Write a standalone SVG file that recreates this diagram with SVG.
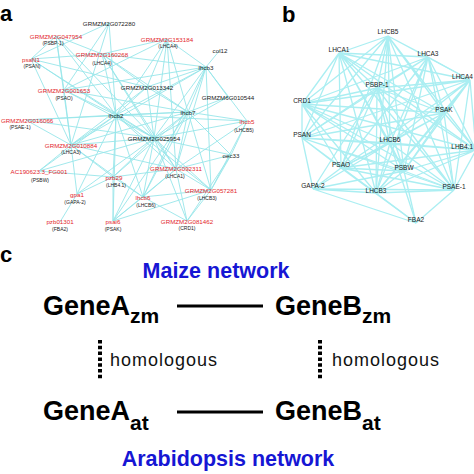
<svg xmlns="http://www.w3.org/2000/svg" width="474" height="474" viewBox="0 0 474 474">
<style>
text{font-family:"Liberation Sans",Arial,sans-serif}
.pl{font-weight:bold;font-size:22px;fill:#000}
.g{font-size:6.2px;text-anchor:middle;fill:#1a1a1a}
.r{fill:#e3262c}
.h{font-size:5px;text-anchor:middle;fill:#1a1a1a}
.b{font-size:6.5px;text-anchor:middle;fill:#1a1a1a}
.ea{stroke:#86e2e6;stroke-width:0.9;fill:none;opacity:0.85}
.eb{stroke:#9cecf0;stroke-width:1.3;fill:none;opacity:0.85}
.big{font-weight:bold;font-size:27px;fill:#000}
.sub{font-size:21px}
.net{font-weight:bold;font-size:21.5px;fill:#1616d4;text-anchor:middle}
.hom{font-size:18px;letter-spacing:1px;fill:#111}
.solid{stroke:#000;stroke-width:3}
.dot{stroke:#000;stroke-width:4;stroke-dasharray:3.5 2.3}
</style>
<rect width="474" height="474" fill="#fff"/>
<text class="pl" x="0" y="21">a</text>
<text class="pl" x="282" y="22">b</text>
<text class="pl" x="0" y="262">c</text>

<g id="connectors">
<g id="edges-a" class="ea">
<path d="M109 23L31 59M109 23L64 90M109 23L116 115M109 23L71 145"/>
<path d="M56 36L31 59M56 36L102 54M56 36L64 90M56 36L116 115M56 36L154 138M56 36L71 145"/>
<path d="M31 59L102 54M31 59L147 87M31 59L116 115M31 59L154 138M31 59L71 145"/>
<path d="M102 54L167 39M102 54L206 67M102 54L147 87M102 54L116 115M102 54L188 112M102 54L154 138M102 54L176 169"/>
<path d="M167 39L206 67M167 39L147 87M167 39L116 115M167 39L188 112M167 39L154 138M167 39L176 169M167 39L64 90"/>
<path d="M220 50L206 67"/>
<path d="M206 67L147 87M206 67L64 90M206 67L228 97M206 67L116 115M206 67L188 112M206 67L247 121M206 67L154 138M206 67L71 145M206 67L176 169M206 67L211 190M206 67L143 197"/>
<path d="M147 87L116 115M147 87L188 112M147 87L154 138M147 87L71 145"/>
<path d="M64 90L116 115M64 90L154 138M64 90L71 145M64 90L188 112"/>
<path d="M228 97L188 112M228 97L154 138"/>
<path d="M26 120L116 115M26 120L188 112M26 120L154 138M26 120L71 145"/>
<path d="M116 115L188 112M116 115L247 121M116 115L154 138M116 115L71 145M116 115L39 171M116 115L176 169M116 115L113 177M116 115L77 194M116 115L143 197M116 115L113 221M116 115L211 190"/>
<path d="M188 112L247 121M188 112L154 138M188 112L71 145M188 112L231 155M188 112L176 169M188 112L113 177M188 112L211 190M188 112L143 197M188 112L113 221"/>
<path d="M247 121L154 138M247 121L231 155M247 121L176 169M247 121L211 190"/>
<path d="M154 138L71 145M154 138L231 155M154 138L39 171M154 138L176 169M154 138L113 177M154 138L211 190M154 138L143 197M154 138L113 221M154 138L187 221"/>
<path d="M71 145L39 171M71 145L176 169M71 145L113 177M71 145L77 194M71 145L143 197"/>
<path d="M231 155L176 169M231 155L211 190M231 155L187 221"/>
<path d="M39 171L113 177"/>
<path d="M176 169L113 177M176 169L211 190M176 169L143 197M176 169L113 221M176 169L187 221"/>
<path d="M113 177L77 194M113 177L143 197M113 177L113 221"/>
<path d="M211 190L143 197M211 190L187 221M211 190L113 221"/>
<path d="M77 194L60 222M77 194L154 138"/>
<path d="M143 197L113 221M143 197L187 221"/>
</g>
<g id="edges-b" class="eb">
<path d="M388 36L339 53M388 36L428 57M388 36L470 80M388 36L377 88M388 36L302 104M388 36L444 113M388 36L302 138M388 36L390 143M388 36L476 150M388 36L341 168M388 36L404 171M388 36L376 193M388 36L454 190"/>
<path d="M339 53L428 57M339 53L470 80M339 53L377 88M339 53L302 104M339 53L444 113M339 53L302 138M339 53L390 143M339 53L476 150M339 53L341 168M339 53L404 171M339 53L376 193M339 53L454 190"/>
<path d="M428 57L470 80M428 57L377 88M428 57L302 104M428 57L444 113M428 57L302 138M428 57L390 143M428 57L476 150M428 57L341 168M428 57L404 171M428 57L376 193M428 57L454 190"/>
<path d="M470 80L377 88M470 80L302 104M470 80L444 113M470 80L302 138M470 80L390 143M470 80L476 150M470 80L341 168M470 80L404 171M470 80L376 193M470 80L454 190"/>
<path d="M377 88L302 104M377 88L444 113M377 88L302 138M377 88L390 143M377 88L476 150M377 88L341 168M377 88L404 171M377 88L313 189M377 88L376 193M377 88L454 190"/>
<path d="M302 104L444 113M302 104L302 138M302 104L390 143M302 104L476 150M302 104L341 168M302 104L404 171M302 104L376 193M302 104L454 190"/>
<path d="M444 113L302 138M444 113L390 143M444 113L476 150M444 113L341 168M444 113L404 171M444 113L376 193M444 113L454 190"/>
<path d="M302 138L390 143M302 138L476 150M302 138L341 168M302 138L404 171M302 138L313 189M302 138L376 193M302 138L454 190"/>
<path d="M390 143L476 150M390 143L341 168M390 143L404 171M390 143L313 189M390 143L376 193M390 143L454 190M390 143L416 223"/>
<path d="M476 150L341 168M476 150L404 171M476 150L376 193M476 150L454 190"/>
<path d="M341 168L404 171M341 168L313 189M341 168L376 193M341 168L454 190M341 168L416 223"/>
<path d="M404 171L313 189M404 171L376 193M404 171L454 190M404 171L416 223"/>
<path d="M313 189L376 193M313 189L454 190M313 189L416 223"/>
<path d="M376 193L454 190M376 193L416 223M454 190L416 223"/>
</g>
<g id="edges-c">
<line class="solid" x1="177" y1="306" x2="263" y2="306"/>
<line class="solid" x1="177" y1="412" x2="263" y2="412"/>
<line class="dot" x1="100" y1="340" x2="100" y2="380"/>
<line class="dot" x1="320" y1="340" x2="320" y2="380"/>
</g>
</g>

<g id="a-nodes">
<g id="A1"><text class="g" x="109" y="26.2">GRMZM2G072280</text></g>
<g id="A2"><text class="g r" x="56" y="39.2">GRMZM2G047954</text><text class="h" x="53" y="44.8">(PSBP-1)</text></g>
<g id="A3"><text class="g r" x="31" y="62.2">psaN1</text><text class="h" x="32" y="67.8">(PSAN)</text></g>
<g id="A4"><text class="g r" x="102" y="57.2">GRMZM2G160268</text><text class="h" x="102" y="64.8">(LHCA4)</text></g>
<g id="A5"><text class="g r" x="167" y="42.2">GRMZM2G153184</text><text class="h" x="168" y="47.8">(LHCA4)</text></g>
<g id="A6"><text class="g" x="220" y="53.2">col12</text></g>
<g id="A7"><text class="g" x="206" y="70.2">lhcb3</text></g>
<g id="A8"><text class="g" x="147" y="90.2">GRMZM2G013342</text></g>
<g id="A9"><text class="g r" x="64" y="93.2">GRMZM2G001653</text><text class="h" x="64" y="99.8">(PSAO)</text></g>
<g id="A10"><text class="g" x="228" y="100.2">GRMZM6G010544</text></g>
<g id="A11"><text class="g r" x="1" y="123.2" style="text-anchor:start">GRMZM2G016066</text><text class="h" x="20" y="128.8">(PSAE-1)</text></g>
<g id="A12"><text class="g" x="116" y="118.2">lhcb2</text></g>
<g id="A13"><text class="g" x="188" y="115.2">lhcb7</text></g>
<g id="A14"><text class="g r" x="247" y="124.2">lhcb5</text><text class="h" x="244" y="131.8">(LHCB5)</text></g>
<g id="A15"><text class="g" x="154" y="141.2">GRMZM2G025954</text></g>
<g id="A16"><text class="g r" x="71" y="148.2">GRMZM2G010884</text><text class="h" x="71" y="153.8">(LHCA3)</text></g>
<g id="A17"><text class="g" x="231" y="158.2">oec33</text></g>
<g id="A18"><text class="g r" x="39" y="174.2">AC190623.3_FG001</text><text class="h" x="40" y="181.8">(PSBW)</text></g>
<g id="A19"><text class="g r" x="176" y="171.2">GRMZM2G092311</text><text class="h" x="175" y="177.8">(LHCA1)</text></g>
<g id="A20"><text class="g r" x="114" y="180.2">pzb29</text><text class="h" x="116" y="186.8">(LHB4.1)</text></g>
<g id="A21"><text class="g r" x="211" y="193.2">GRMZM2G057281</text><text class="h" x="207" y="199.8">(LHCB3)</text></g>
<g id="A22"><text class="g r" x="77" y="197.2">gpa1</text><text class="h" x="75" y="203.8">(GAPA-2)</text></g>
<g id="A23"><text class="g r" x="143" y="200.2">lhcb6</text><text class="h" x="146" y="206.8">(LHCB6)</text></g>
<g id="A24"><text class="g r" x="60" y="224.2">pzb01301</text><text class="h" x="60" y="230.8">(FBA2)</text></g>
<g id="A25"><text class="g r" x="113" y="224.2">psai6</text><text class="h" x="113" y="230.8">(PSAK)</text></g>
<g id="A26"><text class="g r" x="187" y="224.2">GRMZM2G081462</text><text class="h" x="187" y="229.8">(CRD1)</text></g>
</g>

<g id="b-nodes">
<g id="B1"><text class="b" x="388" y="34.3">LHCB5</text></g>
<g id="B2"><text class="b" x="339" y="52.3">LHCA1</text></g>
<g id="B3"><text class="b" x="428" y="56.3">LHCA3</text></g>
<g id="B4"><text class="b" x="473" y="79.3" style="text-anchor:end">LHCA4</text></g>
<g id="B5"><text class="b" x="377" y="87.3">PSBP-1</text></g>
<g id="B6"><text class="b" x="302" y="103.3">CRD1</text></g>
<g id="B7"><text class="b" x="444" y="112.3">PSAK</text></g>
<g id="B8"><text class="b" x="302" y="137.3">PSAN</text></g>
<g id="B9"><text class="b" x="390" y="142.3">LHCB6</text></g>
<g id="B10"><text class="b" x="473" y="149.3" style="text-anchor:end">LHB4.1</text></g>
<g id="B11"><text class="b" x="341" y="167.3">PSAO</text></g>
<g id="B12"><text class="b" x="404" y="170.3">PSBW</text></g>
<g id="B13"><text class="b" x="313" y="188.3">GAPA-2</text></g>
<g id="B14"><text class="b" x="376" y="193.3">LHCB3</text></g>
<g id="B15"><text class="b" x="454" y="189.3">PSAE-1</text></g>
<g id="B16"><text class="b" x="416" y="222.3">FBA2</text></g>
</g>

<g id="c-nodes">
<g id="maize-label"><text class="net" x="216" y="278">Maize network</text></g>
<g id="geneA-zm"><text class="big" x="43" y="315">GeneA<tspan class="sub" dy="8">zm</tspan></text></g>
<g id="geneB-zm"><text class="big" x="275" y="315">GeneB<tspan class="sub" dy="8">zm</tspan></text></g>
<g id="hom-left"><text class="hom" x="110" y="366">homologous</text></g>
<g id="hom-right"><text class="hom" x="332" y="366">homologous</text></g>
<g id="geneA-at"><text class="big" x="43" y="420">GeneA<tspan class="sub" dy="10">at</tspan></text></g>
<g id="geneB-at"><text class="big" x="275" y="420">GeneB<tspan class="sub" dy="10">at</tspan></text></g>
<g id="arab-label"><text class="net" x="228" y="465.5">Arabidopsis network</text></g>
</g>
</svg>
